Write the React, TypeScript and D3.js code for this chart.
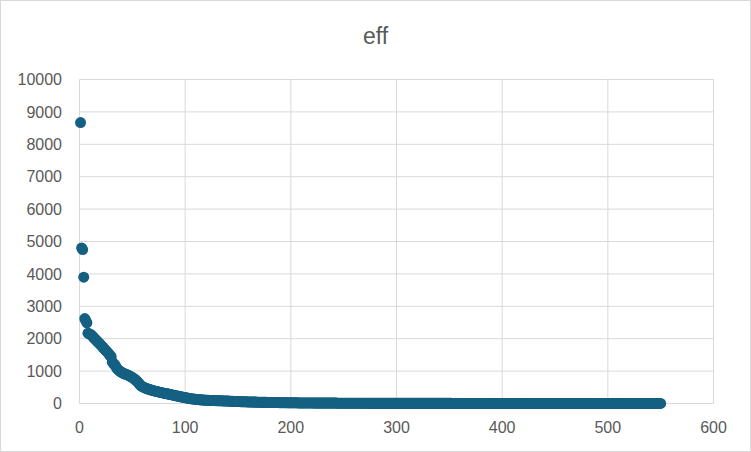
import * as d3 from 'd3';
import * as React from 'react';

const title = 'eff';
const xTicks = [0, 100, 200, 300, 400, 500, 600];
const yTicks = [0, 1000, 2000, 3000, 4000, 5000, 6000, 7000, 8000, 9000, 10000];

// eff values, one per row (x = row number 1..550)
const effValues = [
    8670, 4800, 4750, 3900, 2620, 2560, 2490, 2170, 2150, 2140,
    2120, 2090, 2050, 2010, 1980, 1950, 1910, 1880, 1850, 1810,
    1780, 1740, 1700, 1670, 1630, 1600, 1560, 1520, 1480, 1450,
    1280, 1240, 1210, 1170, 1100, 1060, 1030, 1000, 980, 960,
    940, 925, 910, 900, 890, 875, 860, 840, 820, 800,
    780, 755, 730, 700, 670, 630, 590, 555, 530, 510,
    495, 480, 468, 456, 445, 434, 424, 414, 405, 396,
    388, 380, 372, 364, 356, 348, 340, 333, 326, 319,
    312, 305, 298, 291, 284, 277, 270, 263, 256, 249,
    242, 235, 228, 221, 214, 207, 200, 193, 186, 180,
    174, 168, 162, 156, 150, 145, 140, 136, 132, 128,
    124, 121, 118, 115, 112, 110, 108, 106, 104, 102,
    100, 98, 96, 94, 92, 91, 90, 89, 88, 87,
    86, 85, 84, 83, 82, 81, 80, 79, 78, 77,
    75, 73, 71, 69, 67, 65, 63, 61, 60, 59,
    58, 57, 56, 55, 54, 53, 52, 51, 50, 49,
    48, 47, 46, 45, 44, 44, 43, 42, 41, 40,
    40, 39, 38, 37, 37, 36, 35, 34, 34, 33,
    32, 32, 31, 30, 30, 29, 28, 28, 27, 27,
    26, 26, 25, 25, 24, 24, 23, 23, 22, 22,
    21, 21, 21, 20, 20, 20, 19, 19, 19, 18,
    18, 18, 18, 17, 17, 17, 17, 16, 16, 16,
    16, 15, 15, 15, 15, 15, 14, 14, 14, 14,
    14, 13, 13, 13, 13, 13, 13, 12, 12, 12,
    12, 12, 12, 11, 11, 11, 11, 11, 11, 11,
    10, 10, 10, 10, 10, 10, 10, 10, 9, 9,
    9, 9, 9, 9, 9, 9, 9, 9, 8, 8,
    8, 8, 8, 8, 8, 8, 8, 8, 8, 8,
    7, 7, 7, 7, 7, 7, 7, 7, 7, 7,
    7, 7, 6, 6, 6, 6, 6, 6, 6, 6,
    6, 6, 6, 6, 6, 6, 6, 6, 5, 5,
    5, 5, 5, 5, 5, 5, 5, 5, 5, 5,
    5, 5, 5, 5, 5, 5, 5, 5, 4, 4,
    4, 4, 4, 4, 4, 4, 4, 4, 4, 4,
    4, 4, 4, 4, 4, 4, 4, 4, 4, 4,
    4, 4, 3, 3, 3, 3, 3, 3, 3, 3,
    3, 3, 3, 3, 3, 3, 3, 3, 3, 3,
    3, 3, 3, 3, 3, 3, 3, 3, 3, 3,
    3, 3, 3, 3, 3, 3, 3, 3, 3, 3,
    3, 3, 3, 3, 3, 2, 2, 2, 2, 2,
    2, 2, 2, 2, 2, 2, 2, 2, 2, 2,
    2, 2, 2, 2, 2, 2, 2, 2, 2, 2,
    2, 2, 2, 2, 2, 2, 2, 2, 2, 2,
    2, 2, 2, 2, 2, 2, 2, 2, 2, 2,
    2, 2, 2, 2, 2, 2, 2, 2, 2, 2,
    2, 2, 2, 2, 2, 2, 2, 2, 2, 2,
    2, 2, 2, 2, 2, 2, 2, 2, 2, 2,
    2, 2, 2, 2, 2, 1, 1, 1, 1, 1,
    1, 1, 1, 1, 1, 1, 1, 1, 1, 1,
    1, 1, 1, 1, 1, 1, 1, 1, 1, 1,
    1, 1, 1, 1, 1, 1, 1, 1, 1, 1,
    1, 1, 1, 1, 1, 1, 1, 1, 1, 1,
    1, 1, 1, 1, 1, 1, 1, 1, 1, 1,
    1, 1, 1, 1, 1, 1, 1, 1, 1, 1,
    1, 1, 1, 1, 1, 1, 1, 1, 1, 1,
];

const width = 751;
const height = 452;
const plot = {left: 79.5, right: 713.5, top: 79.5, bottom: 403.5};
const font = '"Liberation Sans", Arial, sans-serif';
const textColor = '#595959';
const gridColor = '#d9d9d9';
const markerColor = '#156082';

export default function App() {
    const x = d3.scaleLinear().domain([0, 600]).range([plot.left, plot.right]);
    const y = d3.scaleLinear().domain([0, 10000]).range([plot.bottom, plot.top]);

    return (
        <svg width={width} height={height} style={{position: 'absolute', left: 0, top: 0}} fontFamily={font}>
            <rect x={0.5} y={0.5} width={width - 1} height={height - 1} fill='#fff' stroke={gridColor} />
            <text x={width / 2} y={44} textAnchor='middle' fontSize={23} fill={textColor}>{title}</text>
            <g className='grid'>
                {yTicks.map((t) => (
                    <line key={'gy' + t} x1={plot.left} x2={plot.right} y1={y(t)} y2={y(t)} stroke={gridColor} />
                ))}
                {xTicks.map((t) => (
                    <line key={'gx' + t} x1={x(t)} x2={x(t)} y1={plot.top} y2={plot.bottom} stroke={gridColor} />
                ))}
            </g>
            <g className='y-axis'>
                {yTicks.map((t) => (
                    <text key={'ly' + t} x={62} y={y(t)} dy='0.36em' textAnchor='end' fontSize={16} fill={textColor}>{t}</text>
                ))}
            </g>
            <g className='x-axis'>
                {xTicks.map((t) => (
                    <text key={'lx' + t} x={x(t)} y={433} textAnchor='middle' fontSize={16} fill={textColor}>{t}</text>
                ))}
            </g>
            <g className='points'>
                {effValues.map((v, i) => (
                    <circle key={i} cx={x(i + 1)} cy={y(v)} r={5.5} fill={markerColor} />
                ))}
            </g>
        </svg>
    );
}
